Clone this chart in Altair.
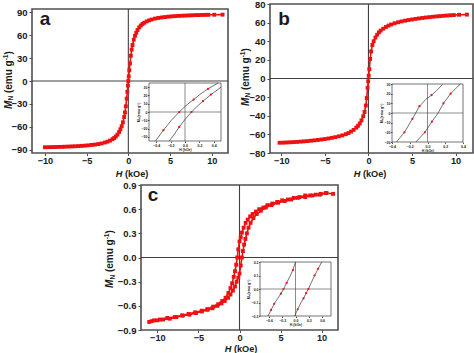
import altair as alt
import pandas as pd

W, H = 474, 353
FONT = "Liberation Sans"
RED = "#ee1111"
FRAME = "#505050"
ZERO = "#404040"
TXT = "#1a1a1a"

# ---------------- data ----------------
# panel a : main loop
A_H = [-10.0, -9.6, -9.2, -8.8, -8.4, -8.0, -7.6, -7.2, -6.8, -6.4,
       -6.0, -5.6, -5.2, -4.8, -4.4, -4.0, -3.6, -3.2, -2.8, -2.5,
       -2.2, -1.9, -1.7, -1.5, -1.3, -1.1, -0.95, -0.8, -0.65, -0.5,
       -0.4, -0.3, -0.2, -0.12, -0.05, 0.0,
       0.05, 0.12, 0.2, 0.3, 0.4, 0.5, 0.65, 0.8, 0.95, 1.1,
       1.3, 1.5, 1.7, 1.9, 2.2, 2.5, 2.8, 3.2, 3.6, 4.0,
       4.4, 4.8, 5.2, 5.6, 6.0, 6.4, 6.8, 7.2, 7.6, 8.0,
       8.4, 8.8, 9.2, 9.6, 10.3, 11.3]
A_M = [-86.5, -86.4, -86.3, -86.2, -86.1, -86.0, -85.8, -85.6, -85.4, -85.2,
       -85.0, -84.7, -84.4, -84.0, -83.5, -83.0, -82.3, -81.5, -80.3, -79.2,
       -77.8, -76.0, -74.5, -72.5, -70.0, -66.5, -63.0, -59.0, -54.0, -47.0,
       -41.0, -33.0, -23.0, -14.0, -6.0, 0.0,
       6.0, 14.0, 23.0, 33.0, 41.0, 47.0, 54.0, 59.0, 63.0, 66.5,
       70.0, 72.5, 74.5, 76.0, 77.8, 79.2, 80.3, 81.5, 82.3, 83.0,
       83.5, 84.0, 84.4, 84.7, 85.0, 85.2, 85.4, 85.6, 85.8, 86.0,
       86.1, 86.2, 86.3, 86.4, 86.5, 86.6]

# panel b : main loop
B_H = [-10.2, -9.8, -9.4, -9.0, -8.6, -8.2, -7.8, -7.4, -7.0, -6.6,
       -6.2, -5.8, -5.4, -5.0, -4.6, -4.2, -3.8, -3.4, -3.0, -2.6,
       -2.3, -2.0, -1.7, -1.4, -1.2, -1.0, -0.8, -0.6, -0.45, -0.3,
       -0.2, -0.1, -0.03,
       0.03, 0.1, 0.2, 0.3, 0.45, 0.6, 0.8, 1.0, 1.2, 1.4,
       1.7, 2.0, 2.3, 2.6, 3.0, 3.4, 3.8, 4.2, 4.6, 5.0,
       5.4, 5.8, 6.2, 6.6, 7.0, 7.4, 7.8, 8.2, 8.6, 9.0,
       9.4, 9.8, 10.4, 11.3]
B_M = [-69.0, -68.9, -68.7, -68.5, -68.3, -68.1, -67.8, -67.5, -67.2, -66.8,
       -66.4, -66.0, -65.5, -65.0, -64.4, -63.7, -63.0, -62.1, -61.1, -59.8,
       -58.6, -57.0, -55.2, -52.8, -50.8, -48.3, -45.0, -40.5, -36.0, -29.0,
       -21.0, -10.0, -3.0,
       3.0, 10.0, 21.0, 29.0, 36.0, 40.0, 44.0, 47.0, 49.5, 51.5,
       53.5, 55.3, 56.8, 58.0, 59.3, 60.4, 61.3, 62.1, 62.8, 63.4,
       64.0, 64.5, 65.0, 65.5, 65.9, 66.3, 66.7, 67.0, 67.3, 67.6,
       67.9, 68.1, 68.4, 68.6]

# panel c : descending and ascending branches
C_DH = [11.4, 10.6, 9.9, 9.3, 8.6, 8.0, 7.3, 6.6, 5.9, 5.2,
        4.6, 4.0, 3.4, 2.9, 2.4, 2.0, 1.6, 1.3, 1.0, 0.75,
        0.5, 0.3, 0.15, 0.0, -0.15, -0.27, -0.4, -0.55, -0.7, -0.9,
        -1.1, -1.35, -1.7, -2.1, -2.6, -3.2, -3.9, -4.6, -5.4, -6.2,
        -7.0, -7.9, -8.8, -9.7, -10.4, -11.0]
C_DM = [0.79, 0.80, 0.79, 0.78, 0.77, 0.77, 0.75, 0.74, 0.72, 0.71,
        0.69, 0.67, 0.65, 0.62, 0.60, 0.57, 0.54, 0.51, 0.47, 0.43,
        0.37, 0.31, 0.25, 0.20, 0.10, 0.0, -0.09, -0.17, -0.24, -0.32,
        -0.38, -0.44, -0.50, -0.54, -0.58, -0.61, -0.64, -0.66, -0.68, -0.70,
        -0.72, -0.74, -0.75, -0.77, -0.78, -0.80]
C_AH = [-10.7, -10.0, -9.3, -8.5, -7.7, -6.9, -6.1, -5.3, -4.6, -3.9,
        -3.3, -2.7, -2.2, -1.8, -1.4, -1.1, -0.8, -0.55, -0.35, -0.15,
        0.0, 0.15, 0.29, 0.42, 0.56, 0.72, 0.9, 1.1, 1.35, 1.7,
        2.1, 2.6, 3.2, 3.9, 4.7, 5.5, 6.3, 7.1, 8.0, 8.9,
        9.8, 10.5]
C_AM = [-0.79, -0.78, -0.77, -0.76, -0.74, -0.72, -0.71, -0.69, -0.67, -0.65,
        -0.63, -0.60, -0.57, -0.54, -0.50, -0.46, -0.41, -0.36, -0.30, -0.25,
        -0.20, -0.10, 0.0, 0.08, 0.16, 0.23, 0.30, 0.37, 0.43, 0.49,
        0.54, 0.58, 0.62, 0.65, 0.68, 0.70, 0.72, 0.74, 0.75, 0.77,
        0.78, 0.80]

# insets: left (descending) and right (ascending) branches, dot flags
AI_LH = [-0.41, -0.30, -0.19, -0.08, 0.03, 0.12, 0.22, 0.32, 0.46]
AI_LM = [-35, -22, -10, 0, 9, 15, 22, 28, 35]
AI_LD = [0, 1, 0, 1, 0, 1, 0, 1, 0]
AI_RH = [-0.22, -0.15, -0.08, 0.0, 0.09, 0.17, 0.25, 0.36, 0.50]
AI_RM = [-35, -27, -18, -9, 0, 7, 13, 21, 30]
AI_RD = [0, 0, 1, 0, 1, 0, 1, 1, 0]

BI_LH = [-0.35, -0.26, -0.17, -0.09, -0.02, 0.046, 0.10, 0.17]
BI_LM = [-30, -20, -6, 7, 14, 18.5, 23, 29.5]
BI_LD = [0, 1, 1, 1, 0, 1, 0, 0]
BI_RH = [-0.13, -0.03, 0.05, 0.12, 0.18, 0.26, 0.37]
BI_RM = [-30, -20, -9, 0, 10, 20, 30]
BI_RD = [0, 1, 1, 0, 1, 1, 0]

CI_LH = [-0.62, -0.55, -0.48, -0.40, -0.33, -0.27, -0.20, -0.13, -0.06, 0.0]
CI_LM = [-0.2, -0.155, -0.11, -0.07, -0.035, 0.0, 0.045, 0.09, 0.14, 0.2]
CI_LD = [0, 1, 1, 0, 1, 1, 1, 0, 1, 0]
CI_RH = [-0.02, 0.05, 0.11, 0.18, 0.24, 0.29, 0.36, 0.43, 0.51, 0.59]
CI_RM = [-0.2, -0.15, -0.11, -0.07, -0.03, 0.0, 0.05, 0.10, 0.15, 0.2]
CI_RD = [0, 1, 0, 1, 1, 1, 0, 1, 1, 0]

# axis ticks / domains
A_XDOM, A_YDOM = [-11.55, 11.95], [-94, 94]
B_XDOM, B_YDOM = [-11.3, 12.0], [-80, 80]
C_XDOM, C_YDOM = [-12, 12], [-0.9, 0.9]
MAIN_XTICKS = [-10, -5, 0, 5, 10]
A_YTICKS = [-90, -60, -30, 0, 30, 60, 90]
B_YTICKS = [-80, -60, -40, -20, 0, 20, 40, 60, 80]
C_YTICKS = [-0.9, -0.6, -0.3, 0.0, 0.3, 0.6, 0.9]
AI_XDOM, AI_YDOM = [-0.5, 0.5], [-35, 35]
BI_XDOM, BI_YDOM = [-0.4, 0.4], [-30, 30]
CI_XDOM, CI_YDOM = [-0.8, 0.8], [-0.2, 0.2]
AB_IXTICKS = [-0.4, -0.2, 0.0, 0.2, 0.4]
AB_IYTICKS = [-30, -20, -10, 0, 10, 20, 30]
C_IXTICKS = [-0.6, -0.3, 0.0, 0.3, 0.6]
C_IYTICKS = [-0.2, -0.1, 0.0, 0.1, 0.2]

# ---------------- helpers ----------------
layers = []


def sc(dom, rng):
    return alt.Scale(domain=dom, range=rng, nice=False, zero=False)


def ax(orient, offset, ticks, fmt, fs, tsize, pad, title=None, tfs=4):
    kw = dict(orient=orient, offset=offset, values=ticks, format=fmt, grid=False,
              domain=False, tickSize=tsize, tickColor=FRAME, tickWidth=1,
              labelFont=FONT, labelFontSize=fs, labelFontWeight="bold",
              labelColor=TXT, labelPadding=pad, labelFlush=False,
              labelOverlap=False)
    if title:
        kw.update(title=title, titleFont=FONT, titleFontSize=tfs,
                  titleFontWeight="bold", titleColor=TXT, titlePadding=0.5)
    else:
        kw.update(title=None)
    return alt.Axis(**kw)


def txt(s, x, y, size, style="normal", angle=None, align="left", baseline="middle"):
    kw = dict(align=align, baseline=baseline, font=FONT, fontSize=size,
              fontWeight="bold", fontStyle=style, color=TXT)
    if angle is not None:
        kw["angle"] = angle
    return alt.Chart(pd.DataFrame({"t": [s]})).mark_text(**kw).encode(
        x=alt.value(x), y=alt.value(y), text="t:N")


def ytitle(cx, cy):
    y0 = cy + 28.9
    return [txt("M", cx, y0, 10, "italic", 270),
            txt("N", cx + 2.5, y0 - 8.3, 6.5, "normal", 270),
            txt("(emu g", cx, y0 - 15.8, 10, "normal", 270),
            txt("-1", cx - 3, y0 - 48.6, 6.5, "normal", 270),
            txt(")", cx, y0 - 54.4, 10, "normal", 270)]


def xtitle(cx, cy):
    x0 = cx - 16.3
    return [txt("H", x0, cy, 9.2, "italic"), txt("(kOe)", x0 + 9.2, cy, 9.2)]


def box(xdom, ydom, xs, ys, width):
    fr = pd.DataFrame({"x0": [xdom[0]], "x1": [xdom[1]], "y0": [ydom[0]], "y1": [ydom[1]]})
    return alt.Chart(fr).mark_rect(fillOpacity=0, stroke=FRAME, strokeWidth=width).encode(
        x=alt.X("x0:Q", scale=xs, axis=None), x2="x1:Q",
        y=alt.Y("y0:Q", scale=ys, axis=None), y2="y1:Q")


def zeros(xdom, ydom, xs, ys, width):
    hz = pd.DataFrame({"x0": [xdom[0]], "x1": [xdom[1]], "y": [0]})
    vz = pd.DataFrame({"x": [0], "y0": [ydom[0]], "y1": [ydom[1]]})
    h = alt.Chart(hz).mark_rule(color=ZERO, strokeWidth=width).encode(
        x=alt.X("x0:Q", scale=xs, axis=None), x2="x1:Q",
        y=alt.Y("y:Q", scale=ys, axis=None))
    v = alt.Chart(vz).mark_rule(color=ZERO, strokeWidth=width).encode(
        x=alt.X("x:Q", scale=xs, axis=None),
        y=alt.Y("y0:Q", scale=ys, axis=None), y2="y1:Q")
    return [h, v]


def panel(branches, xdom, ydom, box_px, yticks, yfmt,
          ibranches, ixdom, iydom, ibox_px, ixticks, iyticks, iyfmt,
          letter, letter_xy, yt_c, xt_c):
    x0, x1, y0, y1 = box_px
    xs, ys = sc(xdom, [x0, x1]), sc(ydom, [y1, y0])
    out = [box(xdom, ydom, xs, ys, 1.6)] + zeros(xdom, ydom, xs, ys, 1.1)
    rows = []
    for b, (hh, mm) in enumerate(branches):
        for i, (h_, m_) in enumerate(zip(hh, mm)):
            rows.append({"h": h_, "m": m_, "b": b, "i": i})
    df = pd.DataFrame(rows)
    out.append(alt.Chart(df).mark_line(color=RED, strokeWidth=1.6).encode(
        x=alt.X("h:Q", scale=xs, axis=None), y=alt.Y("m:Q", scale=ys, axis=None),
        detail="b:N", order="i:Q"))
    out.append(alt.Chart(df).mark_square(color=RED, size=15, opacity=1).encode(
        x=alt.X("h:Q", scale=xs, axis=ax("bottom", y1 - H, MAIN_XTICKS, "d", 9.2, 2.5, 1)),
        y=alt.Y("m:Q", scale=ys, axis=ax("left", -x0, yticks, yfmt, 9.5, 3, 2))))
    # inset
    ix0, ix1, iy0, iy1 = ibox_px
    ixs, iys = sc(ixdom, [ix0, ix1]), sc(iydom, [iy1, iy0])
    out += [box(ixdom, iydom, ixs, iys, 0.8)] + zeros(ixdom, iydom, ixs, iys, 0.6)
    rows = []
    for b, (hh, mm, dd) in enumerate(ibranches):
        for i, (h_, m_, d_) in enumerate(zip(hh, mm, dd)):
            rows.append({"h": h_, "m": m_, "d": d_, "b": b, "i": i})
    idf = pd.DataFrame(rows)
    out.append(alt.Chart(idf).mark_line(color="#333333", strokeWidth=0.7).encode(
        x=alt.X("h:Q", scale=ixs, axis=None), y=alt.Y("m:Q", scale=iys, axis=None),
        detail="b:N", order="i:Q"))
    out.append(alt.Chart(idf[idf["d"] == 1]).mark_circle(color=RED, size=5, opacity=1).encode(
        x=alt.X("h:Q", scale=ixs,
                axis=ax("bottom", iy1 - H, ixticks, ".1f", 3.5, 1.5, 0.5, "H (kOe)", 3.5)),
        y=alt.Y("m:Q", scale=iys,
                axis=ax("left", -ix0, iyticks, iyfmt, 3.5, 1.5, 0.5,
                        "M\u2099 (emu g\u207b\u00b9)", 3.5))))
    out.append(txt(letter, letter_xy[0], letter_xy[1], 19, align="center",
                   baseline="alphabetic"))
    out += ytitle(*yt_c) + xtitle(*xt_c)
    return out


layers += panel([(A_H, A_M)], A_XDOM, A_YDOM, (32, 228, 9, 153), A_YTICKS, "d",
                [(AI_LH, AI_LM, AI_LD), (AI_RH, AI_RM, AI_RD)],
                AI_XDOM, AI_YDOM, (149, 221, 83, 141), AB_IXTICKS, AB_IYTICKS, "d",
                "a", (45, 25), (8.5, 80), (132, 174))
layers += panel([(B_H, B_M)], B_XDOM, B_YDOM, (270, 473, 4, 153), B_YTICKS, "d",
                [(BI_LH, BI_LM, BI_LD), (BI_RH, BI_RM, BI_RD)],
                BI_XDOM, BI_YDOM, (392, 463, 84, 142), AB_IXTICKS, AB_IYTICKS, "d",
                "b", (284, 25), (245.5, 77), (370, 174))
layers += panel([(C_DH, C_DM), (C_AH, C_AM)], C_XDOM, C_YDOM, (141, 338, 185, 330),
                C_YTICKS, ".1f",
                [(CI_LH, CI_LM, CI_LD), (CI_RH, CI_RM, CI_RD)],
                CI_XDOM, CI_YDOM, (260, 331, 262, 316), C_IXTICKS, C_IYTICKS, ".1f",
                "c", (153, 201), (110, 259), (241, 348.5))

chart = alt.layer(*layers).resolve_scale(x="independent", y="independent").properties(
    width=W, height=H, padding=0, autosize=alt.AutoSizeParams(type="none"),
    background="white"
).configure_view(stroke=None)

chart.save("out.html", embed_options={"renderer": "svg", "actions": False})
